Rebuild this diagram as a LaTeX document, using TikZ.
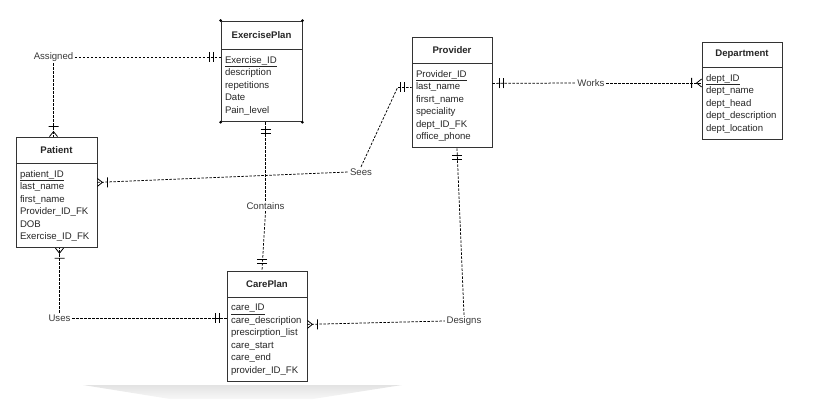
\documentclass[tikz,border=0pt]{standalone}
\usepackage{fontspec}
\setmainfont{Liberation Sans}
\usetikzlibrary{positioning,calc}

\begin{document}
\begin{tikzpicture}[x=1pt,y=-1pt,
	etitle/.style={draw=black!80, fill=white, line width=0.8pt, inner sep=0pt,
		font=\fontsize{9.6}{12}\selectfont\bfseries, text=black!85},
	ebody/.style={draw=black!80, fill=white, line width=0.8pt, align=left,
		inner xsep=4pt, inner ysep=0pt, font=\fontsize{9.6}{12.5}\selectfont, text=black!85},
	rel/.style={line width=0.75pt, dash pattern=on 2.5pt off 1.5pt},
	rlabel/.style={font=\fontsize{9.6}{12}\selectfont, text=black!78, inner sep=1.5pt},
	pics/oneone/.style={code={\draw[line width=0.8pt] (-7,-5) -- (-7,5) (-11,-5) -- (-11,5);}},
	pics/onemany/.style={code={\draw[line width=0.8pt] (-10,-5) -- (-10,5) (0,-4) -- (-5,0) -- (0,4);}}]
	
	\useasboundingbox (0,0) rectangle (831,401);
	
	% --- shadow under the page ---
	\shade[top color=gray!22, bottom color=gray!6, draw=none]
		(83,385) -- (402,385) -- (313,399) -- (170,399) -- cycle;
	
	% ======================================================
	% Entities
	% ======================================================
	
	% ExercisePlan
	\node[etitle, minimum width=81pt, minimum height=28pt] (exPlanT) at (261.5,35) {ExercisePlan};
	\node[ebody, text width=73pt, minimum height=72pt, below=0pt of exPlanT] (exPlan)
		{\underline{Exercise\_ID}\\ description\\ repetitions\\ Date\\ Pain\_level};
	\foreach \c in {exPlanT.north west,exPlanT.north east,exPlan.south west,exPlan.south east}
		\fill (\c) circle (1.5pt);
	
	% Patient
	\node[etitle, minimum width=81pt, minimum height=26pt] (patientT) at (56.5,150) {Patient};
	\node[ebody, text width=73pt, minimum height=84pt, below=0pt of patientT] (patient)
		{\underline{patient\_ID}\\ last\_name\\ first\_name\\ Provider\_ID\_FK\\ DOB\\ Exercise\_ID\_FK};
	
	% CarePlan
	\node[etitle, minimum width=80pt, minimum height=26pt] (carePlanT) at (267,284) {CarePlan};
	\node[ebody, text width=72pt, minimum height=84pt, below=0pt of carePlanT] (carePlan)
		{\underline{care\_ID}\\ care\_description\\ prescirption\_list\\ care\_start\\ care\_end\\ provider\_ID\_FK};
	
	% Provider
	\node[etitle, minimum width=80pt, minimum height=26pt] (providerT) at (452,50) {Provider};
	\node[ebody, text width=72pt, minimum height=84pt, below=0pt of providerT] (provider)
		{\underline{Provider\_ID}\\ last\_name\\ firsrt\_name\\ speciality\\ dept\_ID\_FK\\ office\_phone};
	
	% Department
	\node[etitle, minimum width=80pt, minimum height=25pt] (deptT) at (742,54.5) {Department};
	\node[ebody, text width=72pt, minimum height=72pt, below=0pt of deptT] (dept)
		{\underline{dept\_ID}\\ dept\_name\\ dept\_head\\ dept\_description\\ dept\_location};
	
	% ======================================================
	% Relationship labels
	% ======================================================
	\node[rlabel] (assigned) at (53.5,57) {Assigned};
	\node[rlabel] (sees) at (361,172) {Sees};
	\node[rlabel] (contains) at (265.5,206) {Contains};
	\node[rlabel] (uses) at (59.5,318) {Uses};
	\node[rlabel] (designs) at (464,321) {Designs};
	\node[rlabel] (works) at (591,83) {Works};
	
	% ======================================================
	% Relationships
	% ======================================================
	
	% Assigned: Patient -- ExercisePlan
	\draw[rel] (assigned.east) -- (assigned.east -| exPlan.west);
	\draw[rel] (assigned.south) -- (assigned.south |- patientT.north);
	\path (assigned.east -| exPlan.west) pic {oneone};
	\path (assigned.south |- patientT.north) pic[rotate=-90] {onemany};
	
	% Sees: Patient -- Provider
	\draw[rel] ([yshift=-19pt]patient.north east) -- (sees.west);
	\draw[rel] (sees.north) -- ([xshift=-14pt,yshift=-24pt]provider.north west)
		-- ([yshift=-24pt]provider.north west);
	\path ([yshift=-19pt]patient.north east) pic[rotate=180] {onemany};
	\path ([yshift=-24pt]provider.north west) pic {oneone};
	
	% Contains: ExercisePlan -- CarePlan
	\draw[rel] ([xshift=4pt]exPlan.south) -- (contains.north);
	\draw[rel] (contains.south) -- ([xshift=-5pt]carePlanT.north);
	\path ([xshift=4pt]exPlan.south) pic[rotate=90] {oneone};
	\path ([xshift=-5pt]carePlanT.north) pic[rotate=-90] {oneone};
	
	% Uses: Patient -- CarePlan
	\draw[rel] (uses.north) -- (uses.north |- patient.south);
	\draw[rel] (uses.east) -- (uses.east -| carePlan.west);
	\path (uses.north |- patient.south) pic[rotate=90] {onemany};
	\path (uses.east -| carePlan.west) pic {oneone};
	
	% Designs: CarePlan -- Provider
	\draw[rel] ([yshift=-27pt]carePlan.north east) -- (designs.west);
	\draw[rel] (designs.north) -- ([xshift=5pt]provider.south);
	\path ([yshift=-27pt]carePlan.north east) pic[rotate=180] {onemany};
	\path ([xshift=5pt]provider.south) pic[rotate=90] {oneone};
	
	% Works: Provider -- Department
	\draw[rel] ([yshift=-20pt]provider.north east) -- (works.west);
	\draw[rel] (works.east) -- (works.east -| dept.west);
	\path ([yshift=-20pt]provider.north east) pic[rotate=180] {oneone};
	\path (works.east -| dept.west) pic {onemany};
	
\end{tikzpicture}
\end{document}
